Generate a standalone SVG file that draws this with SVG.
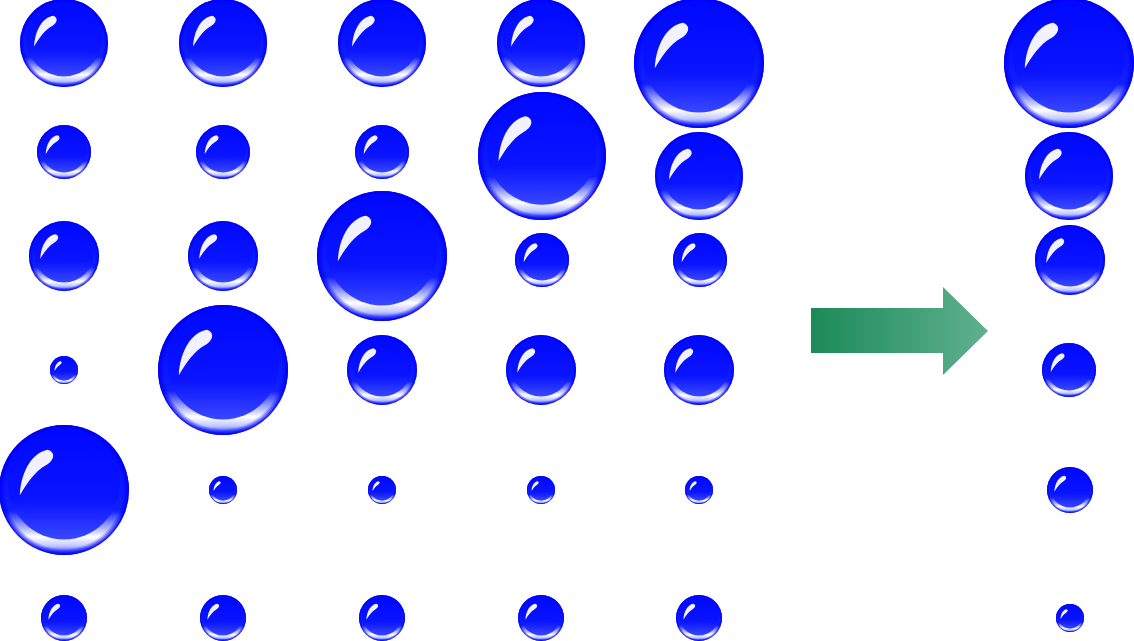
<svg xmlns="http://www.w3.org/2000/svg" width="1134" height="641" viewBox="0 0 1134 641">
<defs>
<linearGradient id="og" x1="0" y1="0" x2="0" y2="1">
<stop offset="0" stop-color="#0000ff"/><stop offset="0.66" stop-color="#1020ff"/><stop offset="0.86" stop-color="#ffffff"/><stop offset="0.93" stop-color="#c0c8ff"/><stop offset="1" stop-color="#1020ff"/>
</linearGradient>
<radialGradient id="rim" cx="0.5" cy="0.5" r="0.5">
<stop offset="0.9" stop-color="#0000ff" stop-opacity="0"/><stop offset="1" stop-color="#0000f0"/>
</radialGradient>
<linearGradient id="ig" x1="0" y1="0" x2="0" y2="1">
<stop offset="0" stop-color="#0008ff"/><stop offset="0.65" stop-color="#0a14ff"/><stop offset="1" stop-color="#3848ff"/>
</linearGradient>
<linearGradient id="ag" x1="0" y1="0" x2="1" y2="0">
<stop offset="0" stop-color="#1b8a58"/><stop offset="1" stop-color="#60b090"/>
</linearGradient>
<symbol id="b" viewBox="-1 -1 2 2" overflow="visible">
<circle r="1" fill="url(#og)"/>
<circle r="1" fill="url(#rim)"/>
<circle cy="-0.1" r="0.86" fill="url(#ig)"/>
<path d="M-0.68,0.08 C-0.66,-0.3 -0.48,-0.58 -0.25,-0.62 C-0.12,-0.58 -0.15,-0.45 -0.28,-0.38 C-0.45,-0.28 -0.56,-0.12 -0.68,0.08 Z" fill="#ffffff" opacity="0.95"/>
</symbol>
</defs>
<g id="bubbles">
<use href="#b" x="20" y="-1" width="88" height="88"/>
<use href="#b" x="179" y="-1" width="88" height="88"/>
<use href="#b" x="338" y="-1" width="88" height="88"/>
<use href="#b" x="497" y="-1" width="88" height="88"/>
<use href="#b" x="634" y="-2" width="130" height="130"/>
<use href="#b" x="37" y="125" width="54" height="54"/>
<use href="#b" x="196" y="125" width="54" height="54"/>
<use href="#b" x="355" y="125" width="54" height="54"/>
<use href="#b" x="478" y="92" width="128" height="128"/>
<use href="#b" x="655" y="132" width="88" height="88"/>
<use href="#b" x="29" y="221" width="70" height="70"/>
<use href="#b" x="188" y="221" width="70" height="70"/>
<use href="#b" x="317" y="191" width="130" height="130"/>
<use href="#b" x="515" y="233" width="54" height="54"/>
<use href="#b" x="673" y="233" width="54" height="54"/>
<use href="#b" x="50" y="356" width="28" height="28"/>
<use href="#b" x="158" y="305" width="130" height="130"/>
<use href="#b" x="347" y="335" width="70" height="70"/>
<use href="#b" x="506" y="335" width="70" height="70"/>
<use href="#b" x="664" y="335" width="70" height="70"/>
<use href="#b" x="-1" y="425" width="130" height="130"/>
<use href="#b" x="209" y="476" width="28" height="28"/>
<use href="#b" x="368" y="476" width="28" height="28"/>
<use href="#b" x="527" y="476" width="28" height="28"/>
<use href="#b" x="685" y="476" width="28" height="28"/>
<use href="#b" x="41" y="595" width="46" height="46"/>
<use href="#b" x="200" y="595" width="46" height="46"/>
<use href="#b" x="359" y="595" width="46" height="46"/>
<use href="#b" x="518" y="595" width="46" height="46"/>
<use href="#b" x="676" y="595" width="46" height="46"/>
<use href="#b" x="1004" y="-2" width="130" height="130"/>
<use href="#b" x="1025" y="132" width="88" height="88"/>
<use href="#b" x="1035" y="225" width="70" height="70"/>
<use href="#b" x="1042" y="343" width="54" height="54"/>
<use href="#b" x="1047" y="467" width="46" height="46"/>
<use href="#b" x="1056" y="604" width="28" height="28"/>
</g>
<g id="arrow">
<path d="M811,308 H943 V287 L988,331 L943,375 V353 H811 Z" fill="url(#ag)"/>
</g>
</svg>
